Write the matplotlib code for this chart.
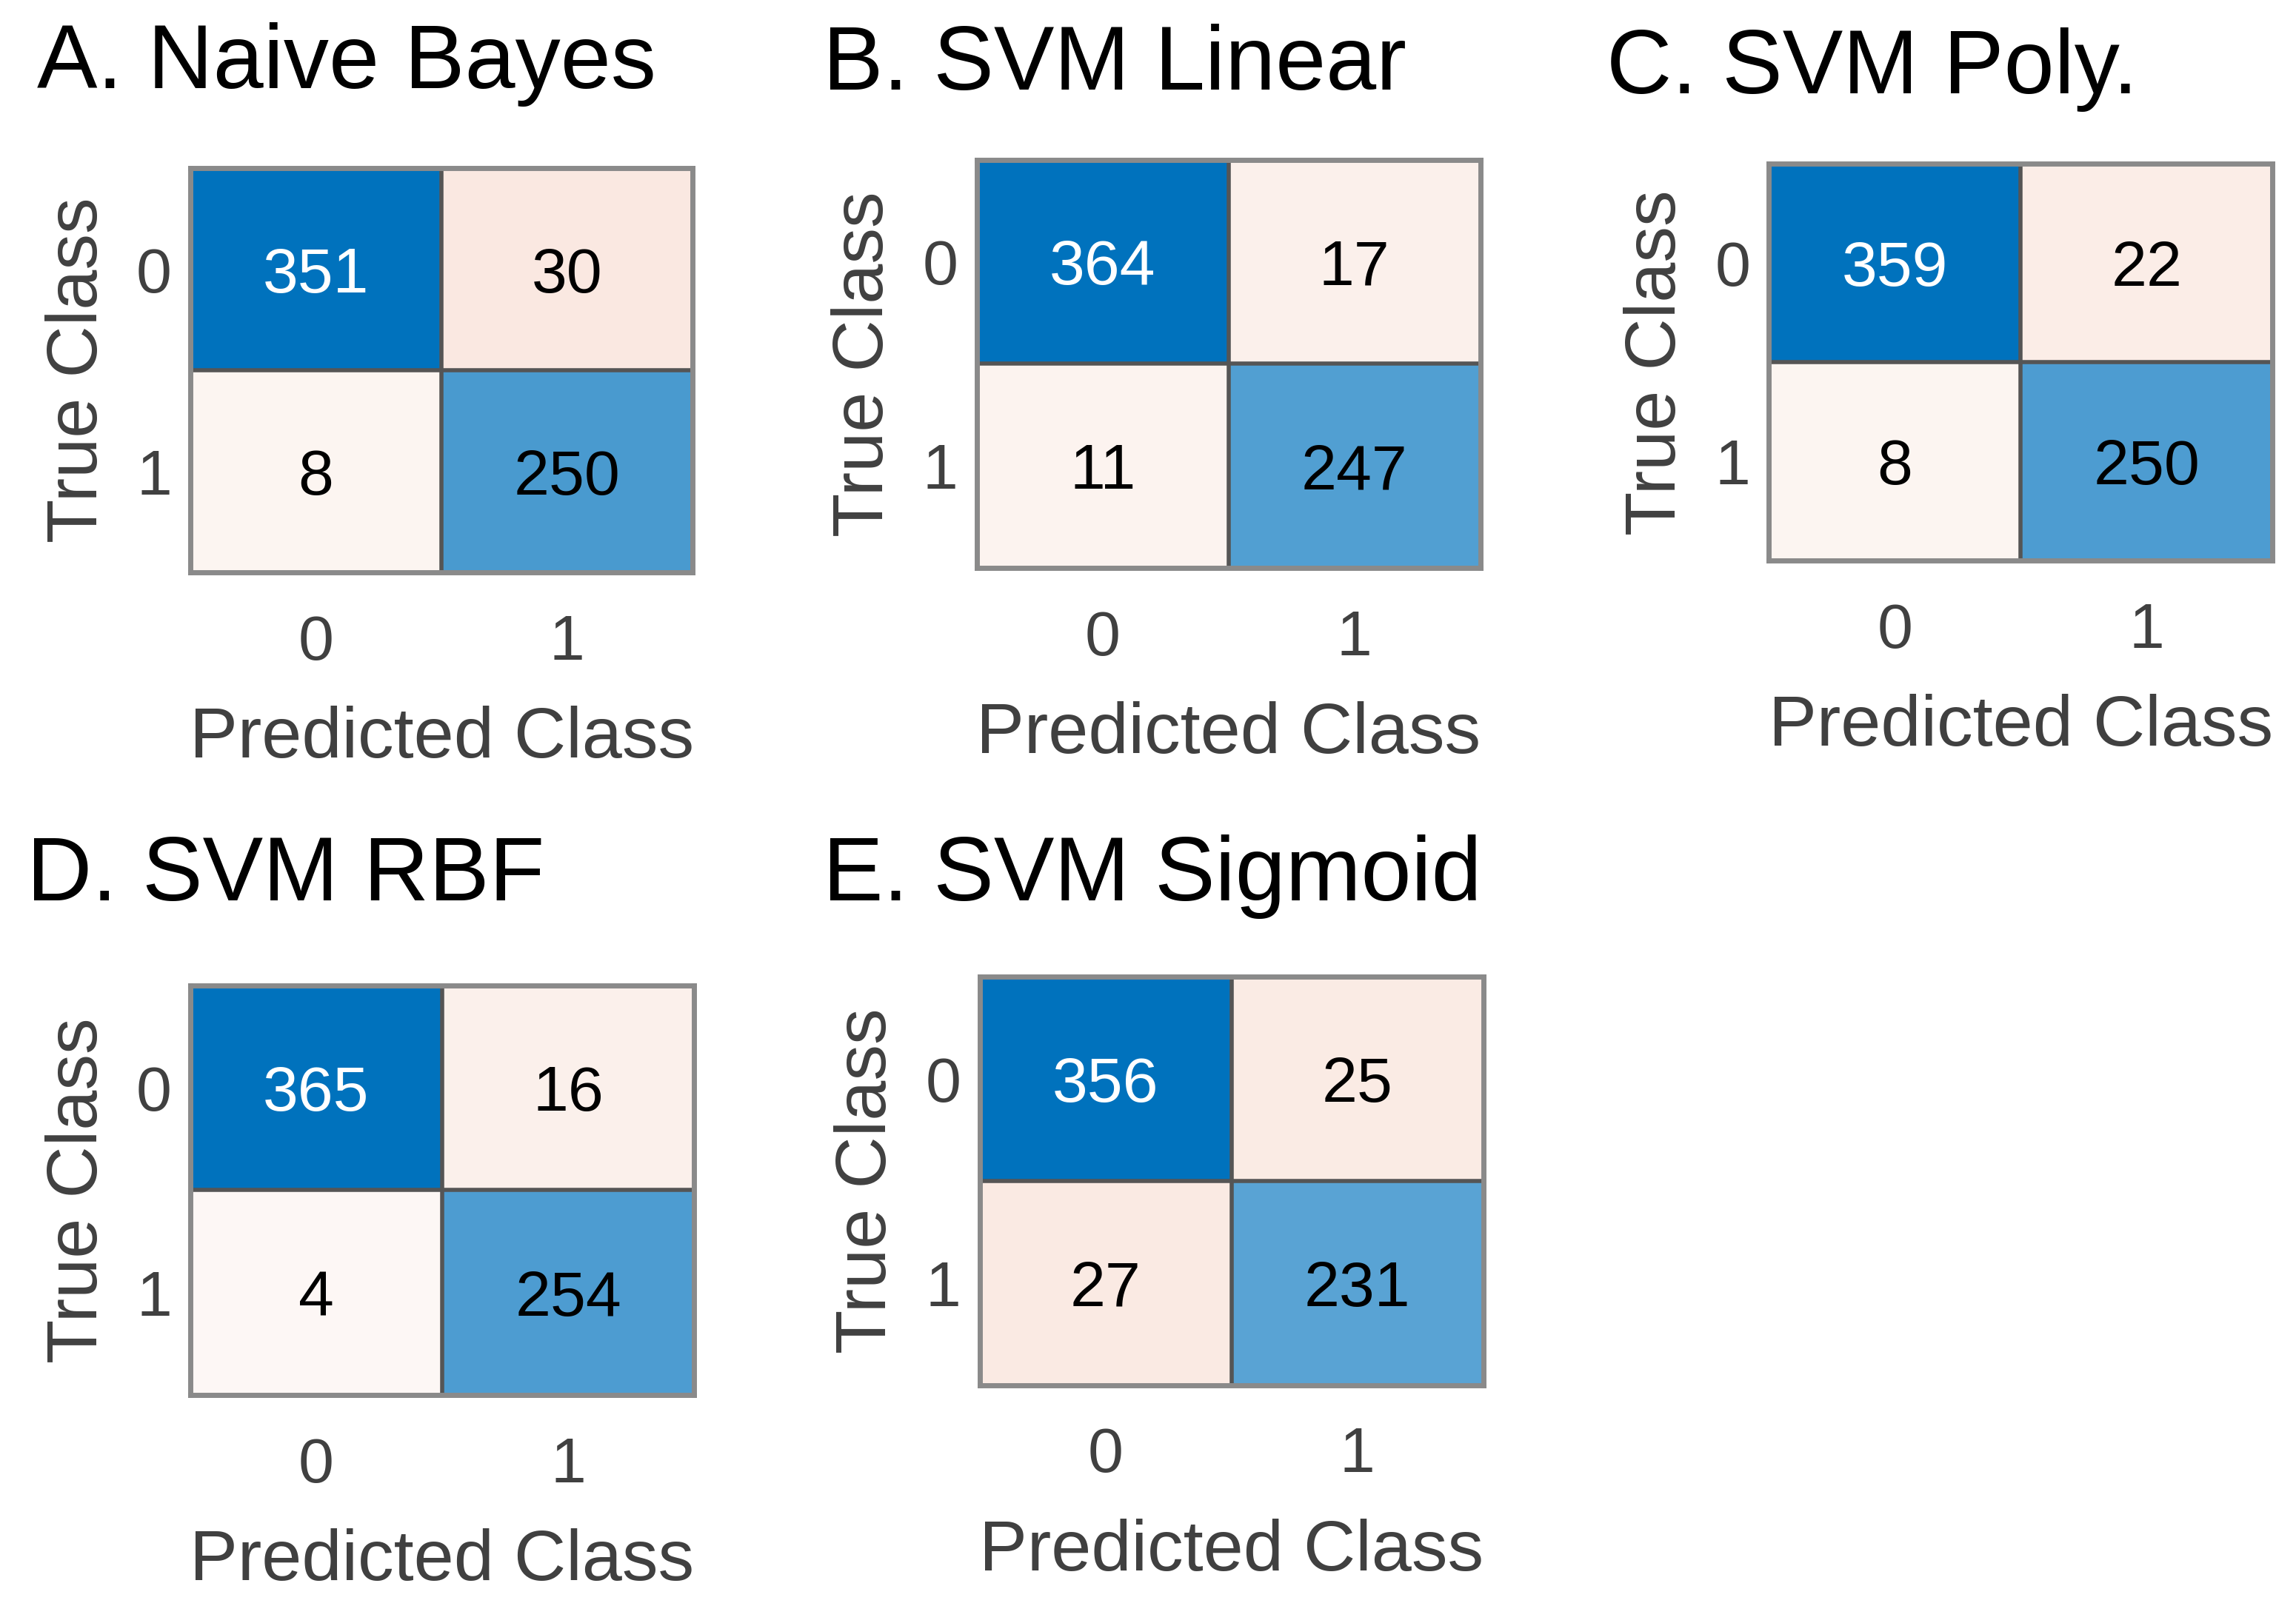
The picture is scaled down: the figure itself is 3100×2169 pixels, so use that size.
"""Confusion matrices for five classifiers (MATLAB confusionchart look)."""

import matplotlib
matplotlib.use("Agg")
import matplotlib.pyplot as plt
import numpy as np

plt.rcParams["font.family"] = ["Liberation Sans", "DejaVu Sans"]

# Data: rows = true class, cols = predicted class
titles = ["A. Naive Bayes", "B. SVM Linear", "C. SVM Poly.", "D. SVM RBF", "E. SVM Sigmoid"]
naive_bayes = [[351, 30], [8, 250]]
svm_linear = [[364, 17], [11, 247]]
svm_poly = [[359, 22], [8, 250]]
svm_rbf = [[365, 16], [4, 254]]
svm_sigmoid = [[356, 25], [27, 231]]
class_labels = ["0", "1"]

matrices = [naive_bayes, svm_linear, svm_poly, svm_rbf, svm_sigmoid]

# Layout (figure fractions): axes rect and title anchor
axes_rects = [
    [0.0829, 0.6436, 0.2188, 0.2516],
    [0.4254, 0.6463, 0.2194, 0.2543],
    [0.7704, 0.6509, 0.2194, 0.2470],
    [0.0829, 0.1313, 0.2194, 0.2552],
    [0.4267, 0.1376, 0.2194, 0.2543],
]
title_pos = [
    (0.016, 0.945),
    (0.3584, 0.944),
    (0.6996, 0.942),
    (0.0115, 0.4394),
    (0.3584, 0.4394),
]

DIAG = np.array([0, 114, 189]) / 255.0
OFF = np.array([217, 83, 25]) / 255.0
WHITE = np.ones(3)
TEXT_GRAY = "#404040"


def cell_color(value, total_max, diag):
    if diag:
        frac = value / total_max
        return WHITE * (1 - frac) + DIAG * frac
    frac = 0.03 + value / 300.0
    return WHITE * (1 - frac) + OFF * frac


fig = plt.figure(figsize=(15.5, 10.845), dpi=200)

for mat, title, rect, tpos in zip(matrices, titles, axes_rects, title_pos):
    m = np.array(mat)
    ax = fig.add_axes(rect)
    vmax = m.max()
    rgb = np.zeros((2, 2, 3))
    for i in range(2):
        for j in range(2):
            rgb[i, j] = cell_color(m[i, j], vmax, i == j)
            dark = i == j and m[i, j] / vmax > 0.8
            ax.text(j, i, str(m[i, j]), ha="center", va="center_baseline",
                    fontsize=31, color="white" if dark else "black")
    ax.imshow(rgb, aspect="auto", interpolation="nearest")
    # cell grid lines
    ax.axhline(0.5, color="#555555", lw=2)
    ax.axvline(0.5, color="#555555", lw=2)
    for sp in ax.spines.values():
        sp.set_color("#8a8a8a")
        sp.set_linewidth(2.5)
    ax.set_xticks([0, 1])
    ax.set_yticks([0, 1])
    ax.set_xticklabels(class_labels)
    ax.set_yticklabels(class_labels)
    ax.tick_params(length=0, labelsize=31, colors=TEXT_GRAY)
    ax.tick_params(axis="x", pad=20)
    ax.tick_params(axis="y", pad=9)
    ax.set_xlabel("Predicted Class", fontsize=35, color=TEXT_GRAY, labelpad=16)
    ax.set_ylabel("True Class", fontsize=35, color=TEXT_GRAY, labelpad=12)
    fig.text(tpos[0], tpos[1], title, fontsize=44, ha="left", va="baseline")

plt.savefig("out.png", dpi=200)
plt.close()
